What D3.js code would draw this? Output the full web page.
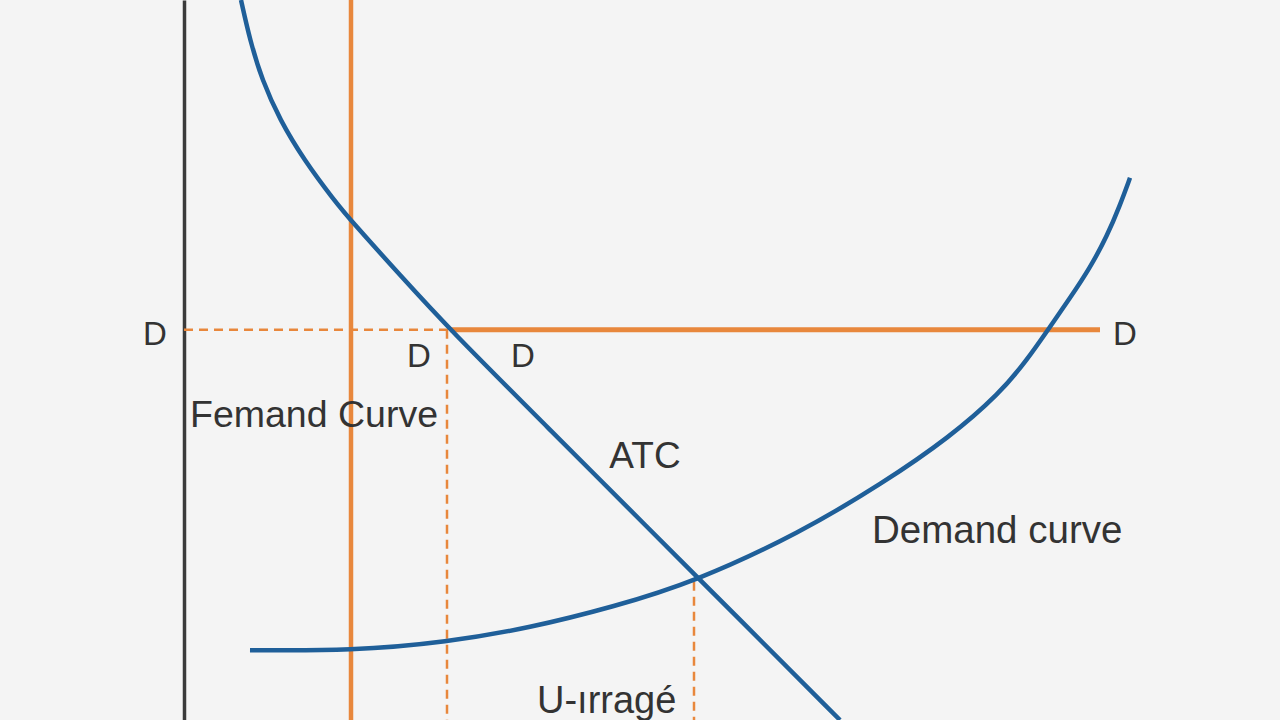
<!DOCTYPE html>
<html><head><meta charset="utf-8">
<script src="https://cdn.jsdelivr.net/npm/d3@7"></script>
<style>html,body{margin:0;padding:0;background:#f4f4f4;}svg{display:block;}</style>
</head><body>
<svg id="c" width="1280" height="720"></svg>
<script>
// Descending curve (top-left to bottom-right), data units
const atcX = [5.7, 6.6, 7.8, 9.6, 12.0, 15.0, 16.8, 21.6, 26.6, 36.4, 46.1, 55.9, 65.6];
const atcY = [100, 94.4, 88.9, 83.3, 77.8, 72.2, 69.2, 61.8, 54.2, 40.6, 27.1, 13.5, 0];
// U-shaped curve
const uX = [6.6, 16.7, 26.3, 34.6, 42.9, 51.1, 61.6, 69.9, 76.6, 81.6, 84.3, 86.4, 88.6, 90.6, 92.3, 93.6, 94.6];
const uY = [9.7, 9.6, 10.8, 12.8, 15.7, 19.2, 26.0, 32.9, 39.3, 45.4, 50.0, 54.2, 58.6, 62.8, 67.2, 71.5, 75.3];
// Reference levels
const priceLevel = 54.2;
const priceLineEnd = 91.6;
const priceLineStart = 26.6;
const verticalSolid = 16.7;
const dashedQ = [26.3, 51.0];
const dashedQTop = [54.2, 19.2];
// Labels: text and anchor in data units
const labelText = ["D", "D", "D", "D", "Femand Curve", "ATC", "Demand curve", "U-ırragé"];
const labelX = [-2.9, 23.5, 33.9, 94.1, 0.6, 46.1, 68.8, 35.3];
const labelY = [52.1, 49.0, 49.0, 52.1, 40.7, 35.0, 24.6, 1.0];
const labelAnchor = ["middle", "middle", "middle", "middle", "start", "middle", "start", "start"];
const labelSize = [33, 33, 33, 33, 37.5, 37, 38.5, 38];

const svg = d3.select("#c");
const x = d3.scaleLinear().domain([0, 100]).range([184, 1184]);
const y = d3.scaleLinear().domain([0, 100]).range([720, 0]);

const blue = "#1f5f99", orange = "#e8873c", ink = "#333333";

// Axis (vertical)
svg.append("g").attr("transform", `translate(${x(0)},0)`)
  .call(d3.axisLeft(y).tickValues([]).tickSizeOuter(0))
  .call(g => g.select(".domain").attr("stroke", "#3a3a3a").attr("stroke-width", 3.5));

// Dashed horizontal
svg.append("line").attr("x1", x(0)).attr("x2", x(priceLineStart))
  .attr("y1", y(priceLevel)).attr("y2", y(priceLevel))
  .attr("stroke", orange).attr("stroke-width", 2.5).attr("stroke-dasharray", "9,6");
// Dashed verticals
dashedQ.forEach((q, i) => {
  svg.append("line").attr("x1", x(q)).attr("x2", x(q))
    .attr("y1", y(dashedQTop[i])).attr("y2", y(0))
    .attr("stroke", orange).attr("stroke-width", 2.5).attr("stroke-dasharray", "9,6");
});
// Solid vertical
svg.append("line").attr("x1", x(verticalSolid)).attr("x2", x(verticalSolid))
  .attr("y1", y(100)).attr("y2", y(0))
  .attr("stroke", orange).attr("stroke-width", 4.5);
// Solid horizontal
svg.append("line").attr("x1", x(priceLineStart)).attr("x2", x(priceLineEnd))
  .attr("y1", y(priceLevel)).attr("y2", y(priceLevel))
  .attr("stroke", orange).attr("stroke-width", 5);

const line = d3.line().x(d => x(d[0])).y(d => y(d[1])).curve(d3.curveBasis);
svg.append("path").datum(uX.map((v, i) => [v, uY[i]]))
  .attr("d", line).attr("fill", "none").attr("stroke", blue).attr("stroke-width", 4.5);
svg.append("path").datum(atcX.map((v, i) => [v, atcY[i]]))
  .attr("d", line).attr("fill", "none").attr("stroke", blue).attr("stroke-width", 4.5);

// Labels
labelText.forEach((t, i) => {
  svg.append("text").attr("x", x(labelX[i])).attr("y", y(labelY[i]))
    .attr("text-anchor", labelAnchor[i])
    .attr("font-family", "'Liberation Sans', Arial, sans-serif")
    .attr("font-size", labelSize[i]).attr("fill", ink).text(t);
});
</script>
</body></html>
